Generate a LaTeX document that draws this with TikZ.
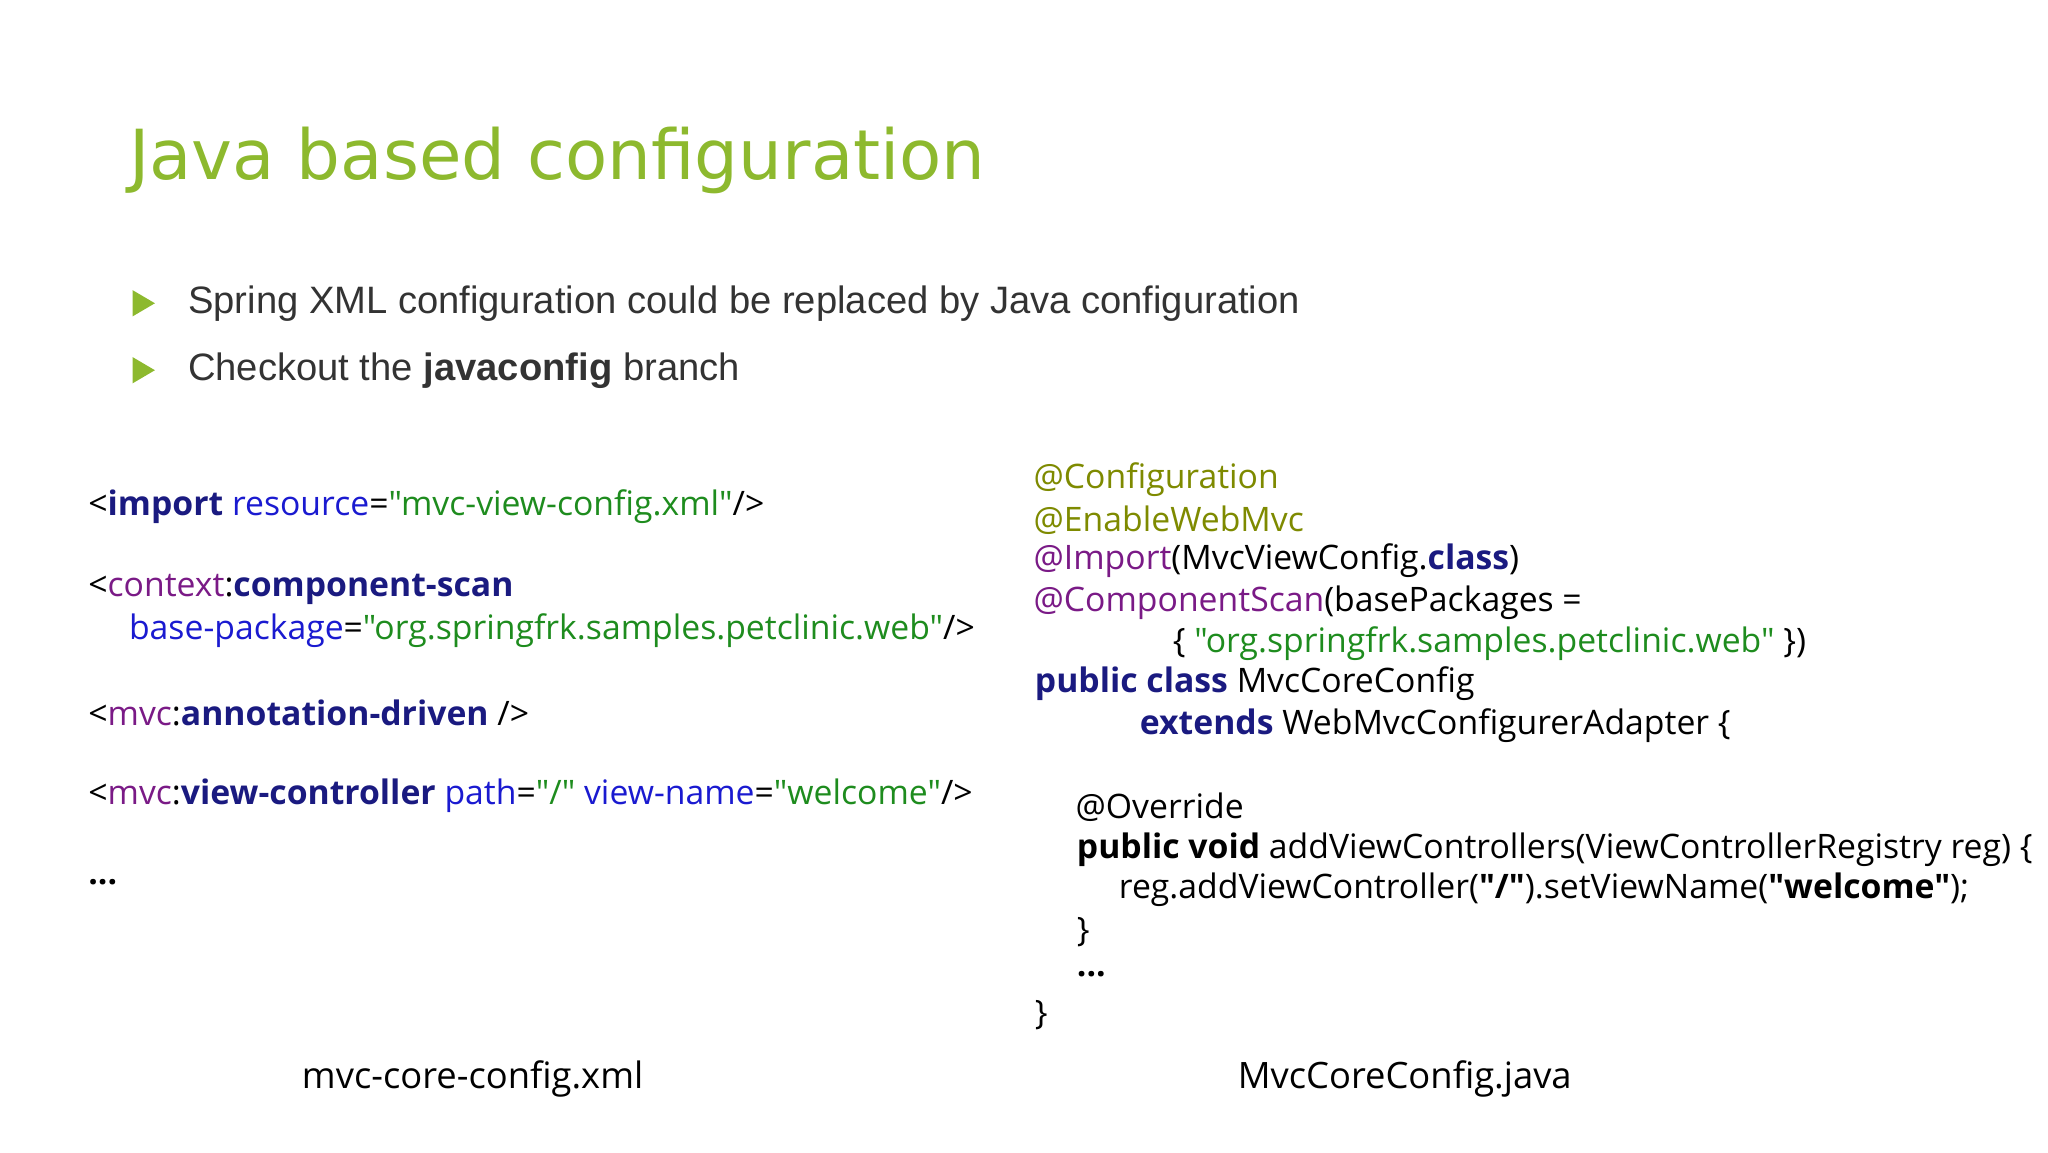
\documentclass[tikz,border=0pt]{standalone}
\usepackage{fontspec}
\setmainfont{Liberation Sans}
\newfontfamily\titlefont{DejaVu Sans}
\newfontfamily\codefont{Open Sans}
\definecolor{tgreen}{HTML}{8DB92E}
\definecolor{navy}{HTML}{1A1A80}
\definecolor{attr}{HTML}{1A1AD0}
\definecolor{str}{HTML}{1E8C1E}
\definecolor{purp}{HTML}{7A1A86}
\definecolor{oliv}{HTML}{7E8A00}
\definecolor{btext}{HTML}{333333}
\newcommand{\kw}[1]{\textcolor{navy}{\bfseries #1}}
\newcommand{\at}[1]{\textcolor{attr}{#1}}
\newcommand{\st}[1]{\textcolor{str}{#1}}
\newcommand{\pu}[1]{\textcolor{purp}{#1}}
\newcommand{\ol}[1]{\textcolor{oliv}{#1}}
\begin{document}
\begin{tikzpicture}[x=0.65pt,y=-0.65pt,
  code/.style={anchor=west,inner sep=0pt,font=\codefont\fontsize{16.7}{18}\selectfont,text=black},
  bul/.style={anchor=west,inner sep=0pt,font=\fontsize{18.9}{22}\selectfont,text=btext},
  tri/.style={fill=tgreen}]
\useasboundingbox (0,0) rectangle (1560,877.5);
\node[anchor=west,inner sep=0pt,text=tgreen,font=\titlefont\fontsize{34.2}{41}\selectfont] (title) at (98,122) {Java based configuration};
\fill[tri] (101,221) -- (118,231) -- (101,241) -- cycle;
\fill[tri] (101,272) -- (118,282) -- (101,292) -- cycle;
\node[bul] (b1) at (143,231) {Spring XML configuration could be replaced by Java configuration};
\node[bul] (b2) at (143,282) {Checkout the \textbf{javaconfig} branch};
% left
\node[code] (l1) at (67,386) {<\kw{import} \at{resource}=\st{"mvc-view-config.xml"}/>};
\node[code] (l2) at (67,449) {<\pu{context}:\kw{component-scan}};
\node[code] (l3) at (98,480) {\at{base-package}=\st{"org.springfrk.samples.petclinic.web"}/>};
\node[code] (l4) at (67,543) {<\pu{mvc}:\kw{annotation-driven} />};
\node[code] (l5) at (67,606) {<\pu{mvc}:\kw{view-controller} \at{path}=\st{"/"} \at{view-name}=\st{"welcome"}/>};
\node[code] (l6) at (67,672) {\textbf{...}};
% right
\node[code] (r1) at (787,365) {\ol{@Configuration}};
\node[code] (r2) at (787,396) {\ol{@EnableWebMvc}};
\node[code] (r3) at (787,427) {\pu{@Import}(MvcViewConfig.\kw{class})};
\node[code] (r4) at (787,459) {\pu{@ComponentScan}(basePackages =};
\node[code] (r5) at (893,490) {\{ \st{"org.springfrk.samples.petclinic.web"} \})};
\node[code] (r6) at (788,521) {\kw{public class} MvcCoreConfig};
\node[code] (r7) at (868,553) {\kw{extends} WebMvcConfigurerAdapter \{};
\node[code] (r8) at (819,615) {@Override};
\node[code] (r9) at (820,647) {\textbf{public void} addViewControllers(ViewControllerRegistry reg) \{};
\node[code] (r10) at (852,678) {reg.addViewController(\textbf{"/"}).setViewName(\textbf{"welcome"});};
\node[code] (r11) at (820,710) {\}};
\node[code] (r12) at (820,742) {\textbf{...}};
\node[code] (r13) at (788,773) {\}};
\node[code,font=\codefont\fontsize{18}{20}\selectfont,anchor=center] (c1) at (360,822) {mvc-core-config.xml};
\node[code,font=\codefont\fontsize{18}{20}\selectfont,anchor=center] (c2) at (1070,822) {MvcCoreConfig.java};
\end{tikzpicture}
\end{document}
